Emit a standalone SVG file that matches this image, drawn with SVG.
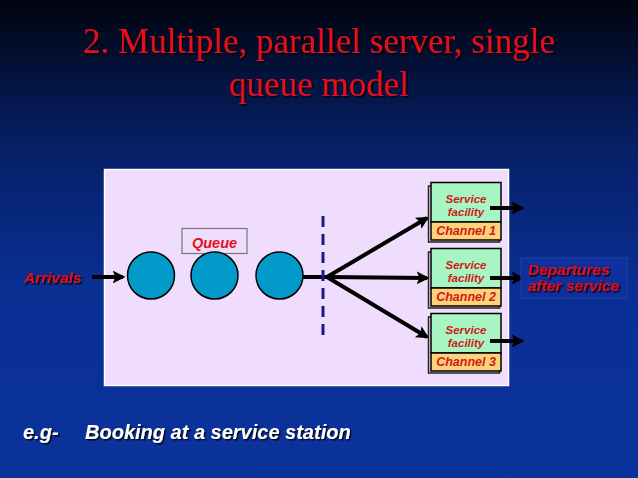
<svg xmlns="http://www.w3.org/2000/svg" width="638" height="478" viewBox="0 0 638 478">
<defs>
<linearGradient id="bg" x1="0" y1="0" x2="0" y2="1">
<stop offset="0" stop-color="#01040f"/>
<stop offset="0.3" stop-color="#061f66"/>
<stop offset="0.6" stop-color="#0a2f93"/>
<stop offset="1" stop-color="#0b339c"/>
</linearGradient>
<filter id="sh" x="-10%" y="-20%" width="130%" height="150%">
<feDropShadow dx="1.5" dy="1.5" stdDeviation="0.4" flood-color="#000" flood-opacity="0.85"/>
</filter>
<marker id="ah2" viewBox="0 0 10 10" refX="8" refY="5" markerWidth="3.6" markerHeight="3.2" orient="auto" markerUnits="strokeWidth">
<path d="M0,0 L10,5 L0,10 L2,5 z" fill="#000"/>
</marker>
</defs>
<style>
.title{font-family:"Liberation Serif","Times New Roman",serif;font-size:35px;fill:#e8101a;text-anchor:middle;}
.lbl{font-family:"Liberation Sans",Arial,sans-serif;font-weight:bold;font-style:italic;}
.red{fill:#e0101a;}
.sf{font-size:11.5px;fill:#d01818;text-anchor:middle;}
.ch{font-size:12.5px;fill:#d01818;text-anchor:middle;}
.green{fill:#a8f5c4;stroke:#000;stroke-width:1.5;}
.orange{fill:#fcd27a;stroke:#000;stroke-width:1.5;}
.back{fill:none;stroke:#222;stroke-width:1.5;}
.cust{fill:#0399c8;stroke:#000;stroke-width:1.5;}
.conn{stroke:#000;stroke-width:4;fill:none;}
</style>
<rect x="0" y="0" width="638" height="478" fill="url(#bg)"/>
<text class="title" x="319" y="53" filter="url(#sh)">2. Multiple, parallel server, single</text>
<text class="title" x="319" y="96" filter="url(#sh)">queue model</text>
<rect id="system" x="104.5" y="169.5" width="404" height="216" fill="#f0dcfc" stroke="#ffffff" stroke-width="1.5"/>
<g id="connectors">
<line x1="92" y1="277" x2="123" y2="277" class="conn" stroke-width="3.5" marker-end="url(#ah2)"/>
<line x1="302" y1="277" x2="327" y2="277" class="conn"/>
<line x1="327" y1="277" x2="427" y2="218" class="conn" marker-end="url(#ah2)"/>
<line x1="327" y1="277" x2="427" y2="278" class="conn" marker-end="url(#ah2)"/>
<line x1="327" y1="277" x2="427" y2="337" class="conn" marker-end="url(#ah2)"/>
<line x1="323" y1="216" x2="323" y2="338" stroke="#1a1a80" stroke-width="3" stroke-dasharray="11,7"/>
</g>
<g id="arrivals"><text class="lbl red" x="24" y="283" font-size="15.5" filter="url(#sh)">Arrivals</text></g>
<g id="queue-label"><rect x="182" y="228.5" width="65" height="25" fill="#f0dcfc" stroke="#777" stroke-width="1.2"/><text class="lbl red" x="214.5" y="248" font-size="14.5" text-anchor="middle">Queue</text></g>
<g id="customer1"><circle class="cust" cx="151" cy="275.5" r="23.5"/></g>
<g id="customer2"><circle class="cust" cx="214.5" cy="275.5" r="23.5"/></g>
<g id="customer3"><circle class="cust" cx="279.5" cy="275.5" r="23.5"/></g>
<g id="channel1">
<rect class="back" x="428.5" y="186" width="71" height="56"/>
<rect class="green" x="431" y="182.5" width="70" height="39.5"/>
<rect class="orange" x="431" y="222" width="70" height="18"/>
<text class="lbl sf" x="466" y="203">Service</text><text class="lbl sf" x="466" y="216">facility</text>
<text class="lbl ch" x="466" y="235">Channel 1</text>
</g>
<g id="channel2">
<rect class="back" x="428.5" y="252" width="71" height="56"/>
<rect class="green" x="431" y="248.5" width="70" height="39.5"/>
<rect class="orange" x="431" y="288" width="70" height="18"/>
<text class="lbl sf" x="466" y="269">Service</text><text class="lbl sf" x="466" y="282">facility</text>
<text class="lbl ch" x="466" y="301">Channel 2</text>
</g>
<g id="channel3">
<rect class="back" x="428.5" y="317" width="71" height="56"/>
<rect class="green" x="431" y="313.5" width="70" height="39.5"/>
<rect class="orange" x="431" y="353" width="70" height="18"/>
<text class="lbl sf" x="466" y="334">Service</text><text class="lbl sf" x="466" y="347">facility</text>
<text class="lbl ch" x="466" y="366">Channel 3</text>
</g>
<g id="out-connectors">
<line x1="490" y1="208" x2="522" y2="208" class="conn" stroke-width="3.5" marker-end="url(#ah2)"/>
<line x1="490" y1="278" x2="522" y2="278" class="conn" stroke-width="3.5" marker-end="url(#ah2)"/>
<line x1="490" y1="341" x2="522" y2="341" class="conn" stroke-width="3.5" marker-end="url(#ah2)"/>
</g>
<g id="departures">
<rect x="521" y="258" width="106" height="40" fill="#0e2f9c" stroke="#1d44a8" stroke-width="1"/>
<text class="lbl red" x="528" y="275" font-size="15.5" filter="url(#sh)">Departures</text>
<text class="lbl red" x="528" y="291" font-size="15.5" filter="url(#sh)">after service</text>
</g>
<g id="example">
<text class="lbl" x="23" y="439" font-size="20" fill="#ffffff" filter="url(#sh)">e.g-</text>
<text class="lbl" x="85" y="439" font-size="20" fill="#ffffff" filter="url(#sh)">Booking at a service station</text>
</g>
</svg>
